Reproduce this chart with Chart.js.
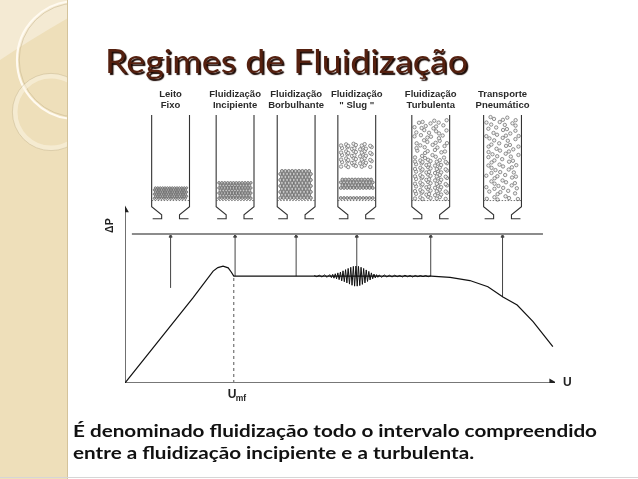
<!DOCTYPE html>
<html>
<head>
<meta charset="utf-8">
<script src="https://cdn.jsdelivr.net/npm/chart.js@4.4.1/dist/chart.umd.min.js"></script>
<style>
  html, body { margin: 0; padding: 0; background: #fff; }
  body { width: 638px; height: 479px; position: relative; overflow: hidden; }
  #strip { position: absolute; left: 0; top: 0; }
  #chart { position: absolute; left: 0; top: 0; }
  .txt { position: absolute; white-space: nowrap; transform-origin: 0 0; }
  #title { left: 105px; top: 45px; font: 400 32px Lato, sans-serif; line-height: 1;
           color: #55200f; text-shadow: 1.5px 1.5px 1px #1c0904; }
  #para { left: 73px; top: 420px; font: 700 17px Lato, sans-serif; line-height: 22px; color: #111; }
  #bottomLine { position: absolute; left: 0; top: 477px; width: 638px; height: 1px; background: #d6d6d6; }
</style>
</head>
<body>
<svg id="strip" width="68" height="479" viewBox="0 0 68 479">
  <rect x="0" y="0" width="68" height="479" fill="#eedfba"/>
  <path d="M0,0 L68,0 L68,18 Q30,40 0,60 Z" fill="#f4ead3"/>
  <circle cx="76" cy="60" r="59" fill="none" stroke="#fffaf0" stroke-width="2.2"/>
  <circle cx="76" cy="60" r="56.8" fill="none" stroke="#c9b88f" stroke-width="0.8" opacity="0.7"/>
  <circle cx="51" cy="112" r="36" fill="none" stroke="#fbf4e4" stroke-width="5" opacity="0.55"/>
  <circle cx="51" cy="112" r="38.6" fill="none" stroke="#b9a780" stroke-width="0.7" opacity="0.55"/>
  <line x1="67.5" y1="0" x2="67.5" y2="479" stroke="#d4c39b" stroke-width="1"/>
</svg>
<canvas id="chart" width="638" height="479"></canvas>
<div id="title" class="txt">Regimes de Fluidização</div>
<div id="para" class="txt"><span id="l1">É denominado fluidização todo o intervalo compreendido</span><br><span id="l2">entre a fluidização incipiente e a turbulenta.</span></div>
<div id="bottomLine"></div>
<script>
// ΔP x U curve (velocity U, pressure drop ΔP, arbitrary units)
const curveU  = [0, 15.8, 20.5, 21.6, 22.8, 24.0, 24.7, 25.3, 71.2, 75.6, 80.2, 84.4, 87.9, 91.2, 94.9, 99.5];
const curveDP = [0, 28.8, 37.9, 39.1, 39.6, 39.0, 37.6, 36.2, 36.2, 35.8, 34.7, 32.6, 29.1, 26.4, 20.8, 12.3];

// pressure fluctuation in the slug regime
const slugU  = [44.0, 44.6, 45.2, 45.8, 46.4, 47.0, 47.6, 48.0, 48.3, 48.6, 48.9, 49.2, 49.5, 49.8, 50.1, 50.4,
                50.7, 51.0, 51.3, 51.6, 51.9, 52.2, 52.5, 52.8, 53.1, 53.4, 53.7, 54.0, 54.3, 54.6, 54.9, 55.2,
                55.5, 55.8, 56.1, 56.4, 56.7, 57.0, 57.3, 57.6, 57.9, 58.2, 58.5, 58.8, 59.1, 59.7, 60.3, 60.9,
                61.5, 62.1, 62.7, 63.3, 63.9, 64.5, 65.1, 65.7, 66.3, 66.9, 67.5, 68.1, 68.7, 69.3, 69.9, 70.5, 71.1];
const slugDP = [36.4, 36.0, 36.5, 35.9, 36.6, 35.8, 36.7, 35.7, 36.8, 35.5, 37.0, 35.3, 37.3, 35.0, 37.6, 34.6,
                38.0, 34.3, 38.4, 33.9, 38.8, 33.5, 39.2, 33.1, 39.5, 32.8, 39.6, 32.8, 39.5, 33.0, 39.2, 33.4,
                38.8, 33.9, 38.3, 34.4, 37.8, 34.9, 37.3, 35.3, 36.9, 35.6, 36.7, 35.8, 36.6, 35.8, 36.6, 35.9,
                36.5, 35.9, 36.5, 36.0, 36.4, 35.9, 36.5, 36.0, 36.4, 35.9, 36.4, 36.0, 36.4, 36.0, 36.4, 36.0, 36.3];

// regimes: column / arrow positions on the U axis
const regimeLine1 = ['Leito', 'Fluidização', 'Fluidização', 'Fluidização', 'Fluidização', 'Transporte'];
const regimeLine2 = ['Fixo', 'Incipiente', 'Borbulhante', '" Slug "', 'Turbulenta', 'Pneumático'];
const regimeU       = [10.6, 25.6, 39.8, 53.9, 71.1, 87.8];
const arrowStartDP  = [32.2, 36.2, 36.2, 36.2, 36.2, 29.1];
const topLineDP = 50.5;
const topLineU  = [1.6, 97.2];
const umfU = 25.3;
const umfDP = 36.2;

// particle beds inside each column [bottom, top] bands
const bedBands = [
  [[62.0, 67.0]],
  [[62.0, 68.5]],
  [[62.0, 72.5]],
  [[62.0, 63.7], [65.4, 70.1], [72.8, 81.6]],
  [[62.0, 76.0], [76.0, 89.8]],
  [[62.0, 90.8]]
];

// drawing style for the particles of each band (spacing in px)
const bandGap = [[2.4], [2.9], [3.4], [3.2, 3.2, 4.0], [4.2, 5.6], [6.0]];
const shake = [0.0, 0.9, -0.7, 0.4, -1.0, 0.6, -0.3, 1.0, -0.8, 0.2, 0.7, -0.5, 0.9, -0.2, -0.9, 0.5];

const pts = (xs, ys) => xs.map((x, i) => ({ x: x, y: ys[i] }));

const datasets = [];
datasets.push({ data: pts(curveU, curveDP), borderColor: '#111', borderWidth: 1.2 });
datasets.push({ data: pts(slugU, slugDP), borderColor: '#111', borderWidth: 1 });
// axes
datasets.push({ data: [{ x: 0, y: 0 }, { x: 0, y: 58.6 }], borderColor: '#222', borderWidth: 1.3,
  pointStyle: 'triangle', pointRadius: [0, 3.2], pointBackgroundColor: '#222', pointBorderColor: '#222' });
datasets.push({ data: [{ x: 0, y: 0 }, { x: 99.3, y: 0 }], borderColor: '#777', borderWidth: 1.8,
  pointStyle: 'triangle', pointRotation: 90, pointRadius: [0, 3.4], pointBackgroundColor: '#222', pointBorderColor: '#222' });
// U_mf dashed line
datasets.push({ data: [{ x: umfU, y: 0 }, { x: umfU, y: umfDP }], borderColor: '#555', borderWidth: 1, borderDash: [3, 3] });
// top line
datasets.push({ data: topLineU.map(u => ({ x: u, y: topLineDP })), borderColor: '#8c8c8c', borderWidth: 2 });
// arrows from the curve to the regimes
regimeU.forEach((u, i) => {
  datasets.push({ data: [{ x: u, y: arrowStartDP[i] }, { x: u, y: topLineDP - 0.8 }], borderColor: '#444', borderWidth: 1,
    pointStyle: 'triangle', pointRadius: [0, 1.8], pointBackgroundColor: '#444', pointBorderColor: '#444' });
});

const columnsPlugin = {
  id: 'columns',
  afterDatasetsDraw(chart) {
    const ctx = chart.ctx, xs = chart.scales.x, ys = chart.scales.y;
    const half = 4.4;
    const yTop = ys.getPixelForValue(90.8), yBot = ys.getPixelForValue(59.7), yDist = ys.getPixelForValue(61.8);
    ctx.save();
    regimeU.forEach((u, i) => {
      const xL = xs.getPixelForValue(u - half), xR = xs.getPixelForValue(u + half);
      // particles
      bedBands[i].forEach((b, k) => {
        const g = bandGap[i][k], r = Math.min(1.7, g * 0.45);
        const loose = g > 3.5;
        ctx.lineWidth = 0.7;
        ctx.strokeStyle = loose ? '#666' : '#555';
        ctx.fillStyle = loose ? '#f2f2f2' : '#c8c8c8';
        const y0 = ys.getPixelForValue(b[0]) - r - 0.5, y1 = ys.getPixelForValue(b[1]) + r;
        let row = 0, n = 0;
        for (let y = y0; y >= y1; y -= g * 0.88, row++) {
          for (let x = xL + r + 1.5 + (row % 2 ? g / 2 : 0); x <= xR - r - 1; x += g, n++) {
            const dx = loose ? shake[n % shake.length] * g * 0.3 : 0;
            const dy = loose ? shake[(n + 5) % shake.length] * g * 0.3 : 0;
            const px = Math.max(xL + r + 1, Math.min(xR - r - 1, x + dx));
            ctx.beginPath();
            ctx.arc(px, y + dy, r, 0, Math.PI * 2);
            ctx.fill();
            ctx.stroke();
          }
        }
      });
      // walls and funnel
      ctx.strokeStyle = '#333';
      ctx.lineWidth = 1.1;
      ctx.beginPath();
      ctx.moveTo(xL, yTop); ctx.lineTo(xL, yBot); ctx.lineTo(xL + 10, yBot + 8); ctx.lineTo(xL + 10, yBot + 12); ctx.lineTo(xL + 1, yBot + 12);
      ctx.moveTo(xR, yTop); ctx.lineTo(xR, yBot); ctx.lineTo(xR - 10, yBot + 8); ctx.lineTo(xR - 10, yBot + 12); ctx.lineTo(xR - 1, yBot + 12);
      ctx.stroke();
      // distributor
      ctx.strokeStyle = '#555';
      ctx.lineWidth = 0.8;
      ctx.setLineDash([1.5, 1.5]);
      ctx.beginPath();
      ctx.moveTo(xL, yDist); ctx.lineTo(xR, yDist);
      ctx.stroke();
      ctx.setLineDash([]);
      // labels
      ctx.fillStyle = '#2a2a2a';
      ctx.font = 'bold 9.5px "Liberation Sans", Arial, sans-serif';
      ctx.textAlign = 'center';
      ctx.textBaseline = 'middle';
      const xc = xs.getPixelForValue(u);
      ctx.fillText(regimeLine1[i], xc, ys.getPixelForValue(97.6));
      ctx.fillText(regimeLine2[i], xc, ys.getPixelForValue(94.2));
    });
    // axis labels
    const ox = xs.getPixelForValue(0), oy = ys.getPixelForValue(0);
    ctx.fillStyle = '#222';
    ctx.font = 'bold 10.5px "Liberation Sans", Arial, sans-serif';
    ctx.save();
    ctx.translate(ox - 15, ys.getPixelForValue(53.3));
    ctx.rotate(-Math.PI / 2);
    ctx.fillText('ΔP', 0, 0);
    ctx.restore();
    ctx.font = 'bold 12px "Liberation Sans Narrow", "Liberation Sans", sans-serif';
    ctx.textAlign = 'left';
    ctx.fillText('U', xs.getPixelForValue(100) + 8, oy);
    const ux = xs.getPixelForValue(umfU) - 6;
    ctx.fillText('U', ux, oy + 12);
    ctx.font = 'bold 8.5px "Liberation Sans Narrow", "Liberation Sans", sans-serif';
    ctx.fillText('mf', ux + 8, oy + 16);
    ctx.restore();
  }
};

new Chart(document.getElementById('chart'), {
  type: 'line',
  data: { datasets: datasets },
  options: {
    responsive: false,
    animation: false,
    layout: { padding: { left: 125, right: 83, top: 73, bottom: 96 } },
    elements: { line: { tension: 0 }, point: { radius: 0, hoverRadius: 0 } },
    scales: {
      x: { type: 'linear', min: 0, max: 100, display: false },
      y: { type: 'linear', min: 0, max: 105, display: false }
    },
    plugins: { legend: { display: false }, tooltip: { enabled: false } },
    events: []
  },
  plugins: [columnsPlugin]
});

// fit text widths to the slide
function fit(el, target) {
  const w = el.getBoundingClientRect().width;
  el.style.transform = 'scaleX(' + (target / w) + ')';
}
fit(document.getElementById('title'), 363);
const l1w = document.getElementById('l1').getBoundingClientRect().width;
document.getElementById('para').style.transform = 'scaleX(' + (524 / l1w) + ')';
</script>
</body>
</html>
